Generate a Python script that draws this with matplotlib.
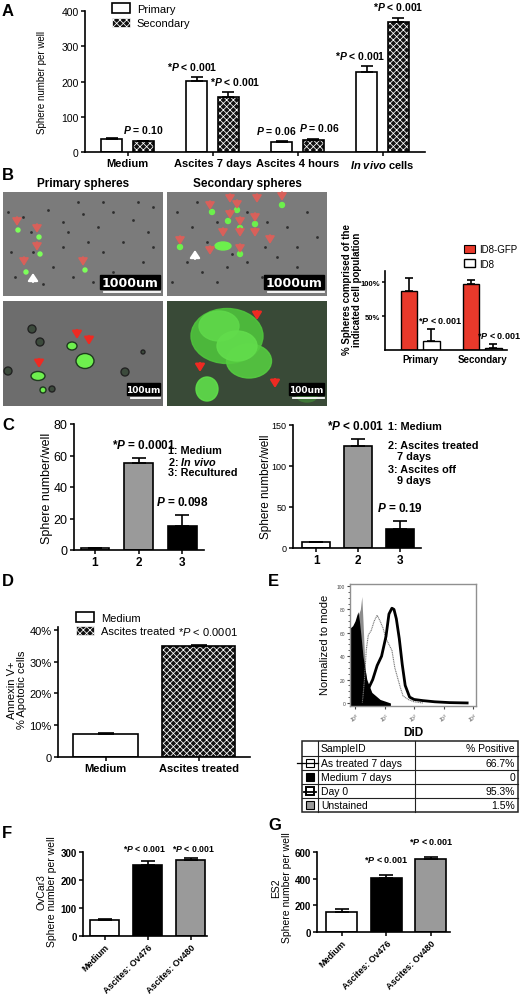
import matplotlib
matplotlib.use('Agg')
import matplotlib.pyplot as plt
from matplotlib.patches import Rectangle, Ellipse, Patch

plt.rcParams.update({
    'font.family': ['Liberation Sans', 'DejaVu Sans'],
    'mathtext.fontset': 'custom',
    'mathtext.rm': 'Liberation Sans',
    'mathtext.it': 'Liberation Sans:italic',
    'mathtext.bf': 'Liberation Sans:bold',
    'mathtext.bfit': 'Liberation Sans:bold:italic',
    'hatch.linewidth': 0.55,
    'axes.linewidth': 1.2,
})

# ---------------- data ----------------
A_cats = ['Medium', 'Ascites 7 days', 'Ascites 4 hours', r'$\mathbfit{In\ vivo}$ cells']
A_primary = [38, 202, 28, 226]
A_primary_err = [1, 10, 3, 17]
A_secondary = [30, 157, 35, 368]
A_secondary_err = [2, 12, 2, 12]
A_p_primary = ['', r'*$\mathbfit{P}$ < 0.001', r'$\mathbfit{P}$ = 0.06', r'*$\mathbfit{P}$ < 0.001']
A_p_secondary = [r'$\mathbfit{P}$ = 0.10', r'*$\mathbfit{P}$ < 0.001', r'$\mathbfit{P}$ = 0.06', r'*$\mathbfit{P}$ < 0.001']
A_yticks = [0, 100, 200, 300, 400]

B_groups = ['Primary', 'Secondary']
B_gfp = [87, 97]
B_gfp_err = [19, 6]
B_id8 = [13, 3]
B_id8_err = [18, 6]

C1_cats = ['1', '2', '3']
C1_vals = [1, 55.5, 15.5]
C1_err = [0.3, 3.2, 7]
C2_cats = ['1', '2', '3']
C2_vals = [7, 124, 23]
C2_err = [0.6, 9, 10]

D_cats = ['Medium', 'Ascites treated']
D_vals = [7.2, 35.0]
D_err = [0.5, 0.2]

E_unst_x = [-0.17, -0.05, 0.05, 0.12, 0.18, 0.23, 0.27, 0.34, 0.44, 0.57, 0.65]
E_unst_y = [62, 66, 72, 76, 80, 91, 70, 29, 12, 2, 0]
E_med_x = [-0.17, -0.08, 0.0, 0.06, 0.1, 0.15, 0.2, 0.27, 0.4, 0.57, 0.85, 1.2]
E_med_y = [64, 66, 70, 75, 78, 70, 58, 40, 20, 9, 3, 0]
E_trt_x = [0.25, 0.32, 0.38, 0.45, 0.55, 0.65, 0.75, 0.85, 0.95, 1.05, 1.15, 1.25, 1.35, 1.46, 1.55, 1.63, 1.8, 2.0, 2.3]
E_trt_y = [0, 20, 45, 58, 62, 70, 75, 70, 64, 55, 50, 45, 30, 20, 12, 6, 3, 1, 0]
E_day0_x = [0.3, 0.45, 0.6, 0.75, 0.9, 1.05, 1.15, 1.25, 1.32, 1.4, 1.5, 1.6, 1.7, 1.85, 2.0, 2.3, 2.7, 3.2, 3.8]
E_day0_y = [0, 12, 20, 32, 40, 57, 76, 81, 80, 72, 55, 33, 15, 5, 3, 2, 1, 0.3, 0]
E_samples = ['As treated 7 days', 'Medium 7 days', 'Day 0', 'Unstained']
E_positive = ['66.7%', '0', '95.3%', '1.5%']

F_cats = ['Medium', 'Ascites: Ov476', 'Ascites: Ov480']
F_vals = [58, 252, 270]
F_err = [1, 15, 8]
G_cats = ['Medium', 'Ascites: Ov476', 'Ascites: Ov480']
G_vals = [152, 408, 545]
G_err = [18, 18, 15]

# ---------------- layout helpers ----------------
W, H = 520, 995
fig = plt.figure(figsize=(W / 100, H / 100), dpi=100)
fig.patch.set_facecolor('white')

ov = fig.add_axes([0, 0, 1, 1])
ov.set_xlim(0, W)
ov.set_ylim(H, 0)
ov.axis('off')

HATCH = 'xxxxx'


def rect(x0, y0, x1, y1):
    return [x0 / W, 1 - y1 / H, (x1 - x0) / W, (y1 - y0) / H]


def T(x, y, s, **kw):
    kw.setdefault('ha', 'left')
    kw.setdefault('va', 'center')
    return ov.text(x, y, s, **kw)


def gp_axes(box, xlim, ylim):
    ax = fig.add_axes(rect(*box))
    ax.set_xlim(*xlim)
    ax.set_ylim(*ylim)
    ax.spines['top'].set_visible(False)
    ax.spines['right'].set_visible(False)
    ax.tick_params(direction='out', length=3, width=1.1, pad=1.5)
    ax.patch.set_alpha(0)
    return ax


def ylabel_at(ax, text, x, y, **kw):
    ax.set_ylabel(text, va='center', ha='center', **kw)
    ax.yaxis.set_label_coords(x / W, 1 - y / H, transform=fig.transFigure)


def errs(ax, x, v, e, cap=4):
    ax.errorbar(x, v, yerr=[[0] * len(e), e], fmt='none', ecolor='black',
                elinewidth=1.2, capsize=cap, capthick=1.2, zorder=3)


def hatched_bars(ax, x, v, w):
    ax.bar(x, v, w, color='#111111', edgecolor='white', hatch=HATCH, linewidth=0, zorder=2)
    ax.bar(x, v, w, fill=False, edgecolor='black', linewidth=1.2, zorder=2.5)


# ---------------- panel letters ----------------
for lx, ly, L in [(2, 12, 'A'), (2, 176, 'B'), (2, 425, 'C'), (2, 582, 'D'),
                  (268, 582, 'E'), (2, 834, 'F'), (268, 826, 'G')]:
    T(lx, ly, L, fontsize=12, fontweight='bold')

# ---------------- Panel A ----------------
axA = gp_axes((85, 12, 425, 153), (-0.5, 3.5), (0, 400))
xA = list(range(len(A_cats)))
offA = 0.185
wA = 0.25
xp = [i - offA for i in xA]
xs = [i + offA for i in xA]
axA.bar(xp, A_primary, wA, color='white', edgecolor='black', linewidth=1.2, zorder=2)
hatched_bars(axA, xs, A_secondary, wA)
errs(axA, xp, A_primary, A_primary_err, cap=4)
errs(axA, xs, A_secondary, A_secondary_err, cap=4)
axA.set_yticks(A_yticks)
axA.set_xticks(xA)
axA.set_xticklabels(A_cats, fontsize=8, fontweight='bold')
axA.tick_params(axis='y', labelsize=7.5)
ylabel_at(axA, 'Sphere number per well', 42, 82, fontsize=7)
dxA_p = [0, -3, -4, -5]
dxA_s = [0, 5, 4, 0]
for i in xA:
    if A_p_primary[i]:
        axA.annotate(A_p_primary[i], xy=(xp[i], A_primary[i] + A_primary_err[i]),
                     xytext=(dxA_p[i], 4), textcoords='offset points', ha='center',
                     va='bottom', fontsize=7.5, fontweight='bold')
    axA.annotate(A_p_secondary[i], xy=(xs[i], A_secondary[i] + A_secondary_err[i]),
                 xytext=(dxA_s[i], 4), textcoords='offset points', ha='center',
                 va='bottom', fontsize=7.5, fontweight='bold')
axA.legend(handles=[Patch(facecolor='white', edgecolor='black', linewidth=1.2),
                    Patch(facecolor='#111111', edgecolor='white', hatch=HATCH, linewidth=0.5)],
           labels=['Primary', 'Secondary'], loc='upper left',
           bbox_to_anchor=(108 / W, 1 - 0 / H), bbox_transform=fig.transFigure,
           frameon=False, fontsize=8, handlelength=1.6, handleheight=0.9,
           labelspacing=0.35, handletextpad=0.6, borderaxespad=0)

# ---------------- Panel B photos ----------------
def photo(box, bg):
    x0, y0, x1, y1 = box
    ax = fig.add_axes(rect(*box))
    ax.set_xlim(0, x1 - x0)
    ax.set_ylim(y1 - y0, 0)
    ax.set_xticks([])
    ax.set_yticks([])
    ax.set_facecolor(bg)
    for sp in ax.spines.values():
        sp.set_visible(False)
    return ax


def red_arrow(ax, x, y, color='#e0453a', lw=1.3):
    ax.annotate('', xy=(x, y + 5), xytext=(x, y - 4),
                arrowprops=dict(arrowstyle='-|>,head_length=0.45,head_width=0.28',
                                color=color, lw=lw, shrinkA=0, shrinkB=0))


def white_arrow(ax, x, y):
    ax.annotate('', xy=(x, y - 5), xytext=(x, y + 4),
                arrowprops=dict(arrowstyle='-|>,head_length=0.45,head_width=0.3',
                                color='white', lw=1.5, shrinkA=0, shrinkB=0))


def scalebar(ax, x0, y0, x1, y1, text, fs):
    ax.add_patch(Rectangle((x0, y0), x1 - x0, y1 - y0, color='black', zorder=5))
    ax.text((x0 + x1) / 2, (y0 + y1) / 2 + 0.5, text, color='white', fontsize=fs,
            fontweight='bold', ha='center', va='center', family='DejaVu Sans', zorder=6)
    ax.plot([x0 + 4, x1], [y1 + 3, y1 + 3], color='white', lw=1.3, zorder=6)


T(83, 184, 'Primary spheres', ha='center', fontsize=8.5, fontweight='bold')
T(247, 184, 'Secondary spheres', ha='center', fontsize=8.5, fontweight='bold')

# top-left photo
p1 = photo((3, 193, 163, 297), '#7b7b7b')
dots1 = [(20, 25), (45, 18), (60, 30), (80, 22), (95, 35), (110, 20), (130, 28), (145, 40),
         (120, 50), (100, 60), (60, 55), (50, 75), (70, 85), (90, 90), (110, 80), (140, 70),
         (150, 55), (8, 60), (12, 85), (30, 60), (65, 40), (125, 88), (85, 50), (150, 15),
         (5, 20), (40, 92), (28, 40), (75, 10), (135, 10), (100, 10)]
p1.scatter([d[0] for d in dots1], [d[1] for d in dots1], s=4, color='#2e2e2e', lw=0)
for gx, gy in [(15, 38), (36, 45), (37, 62), (23, 80), (82, 78)]:
    p1.add_patch(Ellipse((gx, gy), 4, 4, color='#7dff5a', zorder=3))
for ax_, ay_ in [(14, 29), (34, 36), (34, 54), (21, 69), (80, 69)]:
    red_arrow(p1, ax_, ay_, color='#d9605a')
white_arrow(p1, 30, 86)
scalebar(p1, 97, 83, 157, 97, '1000um', 9)

# top-right photo
p2 = photo((167, 193, 327, 297), '#7b7b7b')
dots2 = [(10, 20), (25, 35), (30, 10), (50, 30), (80, 20), (100, 30), (120, 35), (140, 20),
         (150, 45), (20, 70), (35, 80), (60, 75), (80, 70), (95, 85), (110, 65), (130, 75),
         (145, 90), (5, 90), (50, 90), (65, 62), (40, 50), (98, 55), (130, 55)]
p2.scatter([d[0] for d in dots2], [d[1] for d in dots2], s=4, color='#2e2e2e', lw=0)
p2.add_patch(Ellipse((56, 54), 16, 8, color='#6cf04c', zorder=3))
for gx, gy in [(61, 29), (88, 32), (13, 55), (70, 18), (73, 36), (115, 13), (45, 20), (73, 62)]:
    p2.add_patch(Ellipse((gx, gy), 5, 5, color='#6cf04c', zorder=3))
for ax_, ay_ in [(43, 13), (63, 6), (70, 12), (90, 6), (115, 4), (63, 22), (73, 29), (88, 25),
                 (73, 40), (88, 40), (103, 47), (13, 48), (43, 58), (73, 56), (56, 40)]:
    red_arrow(p2, ax_, ay_, color='#d9605a')
white_arrow(p2, 28, 63)
scalebar(p2, 97, 83, 157, 97, '1000um', 9)

# bottom-left photo
p3 = photo((3, 302, 163, 407), '#6d6d6d')
for cx, cy, r in [(29, 28, 4), (37, 41, 4), (5, 70, 4), (122, 71, 4), (140, 51, 2), (49, 88, 3)]:
    p3.add_patch(Ellipse((cx, cy), 2 * r, 2 * r, facecolor='#3c4a3c', edgecolor='#222', lw=1))
for cx, cy, w, h in [(35, 75, 14, 9), (82, 60, 18, 15), (69, 45, 10, 8), (40, 89, 6, 6)]:
    p3.add_patch(Ellipse((cx, cy), w, h, facecolor='#6ef04e', edgecolor='#1e3a1e', lw=1, zorder=3))
for ax_, ay_ in [(74, 33), (86, 39), (36, 62)]:
    red_arrow(p3, ax_, ay_, color='#ee2a22', lw=1.6)
scalebar(p3, 124, 82, 157, 94, '100um', 6.5)

# bottom-right photo
p4 = photo((167, 302, 327, 407), '#394a37')
for cx, cy, w, h, c in [(60, 35, 72, 55, '#4fc43c'), (82, 60, 45, 34, '#55cc40'),
                        (52, 25, 40, 30, '#5fd84a'), (70, 45, 40, 30, '#62dc4c'),
                        (40, 88, 22, 24, '#5fe04a'), (140, 95, 20, 12, '#3f7a36')]:
    p4.add_patch(Ellipse((cx, cy), w, h, color=c, zorder=2, alpha=0.9))
for ax_, ay_ in [(90, 14), (33, 66), (108, 82)]:
    red_arrow(p4, ax_, ay_, color='#ee2a22', lw=1.6)
scalebar(p4, 122, 82, 157, 94, '100um', 6.5)

# ---------------- Panel B bar chart ----------------
axB = gp_axes((385, 272, 507, 351), (-0.565, 1.4), (0, 116.2))
xB = list(range(len(B_groups)))
xg = [i - 0.18 for i in xB]
xi = [i + 0.18 for i in xB]
axB.bar(xg, B_gfp, 0.26, color='#e8392b', edgecolor='black', linewidth=1.0, zorder=2)
axB.bar(xi, B_id8, 0.28, color='white', edgecolor='black', linewidth=1.0, zorder=2)
errs(axB, xg, B_gfp, B_gfp_err, cap=3)
errs(axB, xi, B_id8, B_id8_err, cap=3)
axB.set_yticks([50, 100])
axB.set_yticklabels(['50%', '100%'], fontsize=5.5, fontweight='bold')
axB.tick_params(axis='y', length=2.5, pad=1)
axB.set_xticks(xB)
axB.set_xticklabels(B_groups, fontsize=7, fontweight='bold')
axB.tick_params(axis='x', length=0, pad=3)
ylabel_at(axB, '% Spheres comprised of the\nindicated cell population', 352, 290,
          fontsize=7, fontweight='bold', linespacing=1.0)
for i, dx in zip(xB, [6, 4]):
    axB.annotate(r'*$\mathbfit{P}$ < 0.001', xy=(xi[i], B_id8[i] + B_id8_err[i]),
                 xytext=(dx, 3), textcoords='offset points', ha='center', va='bottom',
                 fontsize=6.5, fontweight='bold')
axB.legend(handles=[Patch(facecolor='#e8392b', edgecolor='black', linewidth=0.8),
                    Patch(facecolor='white', edgecolor='black', linewidth=1.0)],
           labels=['ID8-GFP', 'ID8'], loc='upper left',
           bbox_to_anchor=(460 / W, 1 - 241 / H), bbox_transform=fig.transFigure,
           frameon=False, fontsize=7, handlelength=1.1, handleheight=0.9,
           labelspacing=0.5, handletextpad=0.5, borderaxespad=0)

# ---------------- Panel C ----------------
face3 = ['white', '#9a9a9a', 'black']
axC1 = gp_axes((74, 425, 204, 551), (0.517, 3.5), (0, 80))
xC = [1, 2, 3]
axC1.bar(xC, C1_vals, 0.66, color=face3, edgecolor='black', linewidth=1.2, zorder=2)
errs(axC1, xC, C1_vals, C1_err, cap=5)
axC1.set_yticks([0, 20, 40, 60, 80])
axC1.tick_params(axis='y', labelsize=9)
axC1.set_xticks(xC)
axC1.set_xticklabels(C1_cats, fontsize=8.5, fontweight='bold')
ylabel_at(axC1, 'Sphere number/well', 47, 488, fontsize=9)
axC1.annotate(r'*$\mathbfit{P}$ = 0.0001', xy=(2, C1_vals[1] + C1_err[1]), xytext=(4, 5),
              textcoords='offset points', ha='center', va='bottom', fontsize=8.5, fontweight='bold')
axC1.annotate(r'$\mathbfit{P}$ = 0.098', xy=(3, C1_vals[2] + C1_err[2]), xytext=(0, 5),
              textcoords='offset points', ha='center', va='bottom', fontsize=8.5, fontweight='bold')
T(168, 451, '1: Medium', fontsize=7.8, fontweight='bold')
T(168, 462, r'2: $\mathbfit{In\ vivo}$', fontsize=7.8, fontweight='bold')
T(168, 473, '3: Recultured', fontsize=7.8, fontweight='bold')

axC2 = gp_axes((293, 426, 421, 549), (0.45, 3.5), (0, 150))
axC2.bar(xC, C2_vals, 0.66, color=face3, edgecolor='black', linewidth=1.2, zorder=2)
errs(axC2, xC, C2_vals, C2_err, cap=5)
axC2.set_yticks([0, 50, 100, 150])
axC2.tick_params(axis='y', labelsize=6.5)
axC2.set_xticks(xC)
axC2.set_xticklabels(C2_cats, fontsize=8.5, fontweight='bold')
ylabel_at(axC2, 'Sphere number/well', 266, 487, fontsize=8.5)
axC2.annotate(r'*$\mathbfit{P}$ < 0.001', xy=(2, C2_vals[1] + C2_err[1]), xytext=(-2, 5),
              textcoords='offset points', ha='center', va='bottom', fontsize=8.5, fontweight='bold')
axC2.annotate(r'$\mathbfit{P}$ = 0.19', xy=(3, C2_vals[2] + C2_err[2]), xytext=(0, 5),
              textcoords='offset points', ha='center', va='bottom', fontsize=8.5, fontweight='bold')
T(388, 427, '1: Medium', fontsize=7.8, fontweight='bold')
T(388, 446, '2: Ascites treated', fontsize=7.8, fontweight='bold')
T(397, 457, '7 days', fontsize=7.8, fontweight='bold')
T(388, 470, '3: Ascites off', fontsize=7.8, fontweight='bold')
T(397, 481, '9 days', fontsize=7.8, fontweight='bold')

# ---------------- Panel D ----------------
axD = gp_axes((58, 628, 250, 758), (-0.51, 1.55), (0, 40.94))
xD = [0, 1]
axD.bar([0], D_vals[:1], 0.7, color='white', edgecolor='black', linewidth=1.2, zorder=2)
hatched_bars(axD, [1], D_vals[1:], 0.78)
errs(axD, xD, D_vals, D_err, cap=6)
axD.set_yticks([0, 10, 20, 30, 40])
axD.set_yticklabels(['0', '10%', '20%', '30%', '40%'], fontsize=8)
axD.set_xticks(xD)
axD.set_xticklabels(D_cats, fontsize=8, fontweight='bold')
ylabel_at(axD, 'Annexin V+\n% Apototic cells', 17, 690, fontsize=8, linespacing=1.0)
T(178, 632, r'*$\mathit{P}$ < 0.0001', fontsize=8)
axD.legend(handles=[Patch(facecolor='white', edgecolor='black', linewidth=1.2),
                    Patch(facecolor='#111111', edgecolor='white', hatch=HATCH, linewidth=0.5)],
           labels=['Medium', 'Ascites treated'], loc='upper left',
           bbox_to_anchor=(72 / W, 1 - 609 / H), bbox_transform=fig.transFigure,
           frameon=False, fontsize=8, handlelength=1.6, handleheight=0.9,
           labelspacing=0.25, handletextpad=0.6, borderaxespad=0)

# ---------------- Panel E ----------------
axE = fig.add_axes(rect(350, 585, 476, 707))
axE.set_xlim(-0.17, 4.1)
axE.set_ylim(-2.6, 101.7)
axE.fill_between(E_unst_x, E_unst_y, -2.6, color='#8c8c8c', lw=0, zorder=1)
axE.fill_between(E_med_x, E_med_y, -2.6, color='black', lw=0, zorder=2)
axE.plot(E_trt_x, E_trt_y, color='#777777', lw=0.8, ls=(0, (1, 0.6)), zorder=3)
axE.plot(E_day0_x, E_day0_y, color='black', lw=2.0, zorder=4)
for sp in axE.spines.values():
    sp.set_color('#909090')
    sp.set_linewidth(1.0)
axE.set_yticks([0, 20, 40, 60, 80, 100])
axE.set_yticks(list(range(0, 101, 5)), minor=True)
axE.set_xticks([0, 1, 2, 3, 4])
axE.set_xticklabels([r'$10^{%d}$' % k for k in range(5)], fontsize=4, rotation=30)
axE.tick_params(axis='both', labelsize=3.5, length=2.5, width=0.8, pad=1, colors='#444444')
axE.tick_params(axis='both', which='minor', length=1.5, width=0.6, colors='#444444')
ylabel_at(axE, 'Normalized to mode', 325, 645, fontsize=8)
axE.set_xlabel('DiD', fontsize=8.5, fontweight='bold', labelpad=2)

# table
tx0, tx1, tx2, tx3 = 302, 318, 415, 518
rows_y = [742, 757, 771, 785, 799, 813]
ov.add_patch(Rectangle((tx0, rows_y[0]), tx3 - tx0, rows_y[-1] - rows_y[0], fill=False, lw=1.1, ec='#222'))
for yy in rows_y[1:-1]:
    ov.plot([tx0, tx3], [yy, yy], color='#222', lw=0.8)
for xx in (tx1, tx2):
    ov.plot([xx, xx], [rows_y[0], rows_y[-1]], color='#222', lw=0.8)
T(tx1 + 3, (rows_y[0] + rows_y[1]) / 2, 'SampleID', fontsize=7.5)
T(tx3 - 3, (rows_y[0] + rows_y[1]) / 2, '% Positive', fontsize=7.5, ha='right')
icon_face = ['white', 'black', 'white', '#9a9a9a']
icon_lw = [0.8, 0.8, 1.4, 0.8]
for k, (s, p) in enumerate(zip(E_samples, E_positive)):
    yc = (rows_y[k + 1] + rows_y[k + 2]) / 2
    T(tx1 + 3, yc, s, fontsize=7.5)
    T(tx3 - 3, yc, p, fontsize=7.5, ha='right')
    ov.add_patch(Rectangle((306, yc - 4), 8, 8, facecolor=icon_face[k], edgecolor='black', lw=icon_lw[k], zorder=3))
    if k == 0:
        ov.plot([297, 318], [yc, yc], color='black', lw=0.9, zorder=4)
    if k == 2:
        ov.plot([304, 316], [yc + 1, yc + 1], color='black', lw=1.3, zorder=4)

# ---------------- Panels F and G ----------------
face_fg = ['white', 'black', '#9a9a9a']
axF = gp_axes((83, 853, 207, 937), (-0.5, 2.38), (0, 300))
xF = [0, 1, 2]
axF.bar(xF, F_vals, 0.68, color=face_fg, edgecolor='black', linewidth=1.2, zorder=2)
errs(axF, xF, F_vals, F_err, cap=5)
axF.set_yticks([0, 100, 200, 300])
axF.tick_params(axis='y', labelsize=7)
for lb in axF.get_yticklabels():
    lb.set_fontweight('bold')
axF.set_xticks(xF)
axF.set_xticklabels(F_cats, fontsize=6.5, fontweight='bold', rotation=45, ha='right',
                    rotation_mode='anchor')
ylabel_at(axF, 'OvCar3\nSphere number per well', 47, 892, fontsize=7.5, linespacing=1.1)
for i in (1, 2):
    axF.annotate(r'*$\mathbfit{P}$ < 0.001', xy=(xF[i], F_vals[i] + F_err[i]),
                 xytext=(-2 if i == 1 else 2, 6 if i == 1 else 4),
                 textcoords='offset points', ha='center', va='bottom', fontsize=6.3, fontweight='bold')

axG = gp_axes((317, 853, 450, 933), (-0.56, 2.43), (0, 600))
xG = [0, 1, 2]
axG.bar(xG, G_vals, 0.7, color=face_fg, edgecolor='black', linewidth=1.2, zorder=2)
errs(axG, xG, G_vals, G_err, cap=5)
axG.set_yticks([0, 200, 400, 600])
axG.tick_params(axis='y', labelsize=7)
for lb in axG.get_yticklabels():
    lb.set_fontweight('bold')
axG.set_xticks(xG)
axG.set_xticklabels(G_cats, fontsize=6.5, fontweight='bold', rotation=45, ha='right',
                    rotation_mode='anchor')
ylabel_at(axG, 'ES2\nSphere number per well', 282, 888, fontsize=7.5, linespacing=1.1)
for i in (1, 2):
    axG.annotate(r'*$\mathbfit{P}$ < 0.001', xy=(xG[i], G_vals[i] + G_err[i]), xytext=(0, 8),
                 textcoords='offset points', ha='center', va='bottom', fontsize=6.5, fontweight='bold')

fig.savefig('out.png', dpi=100)
